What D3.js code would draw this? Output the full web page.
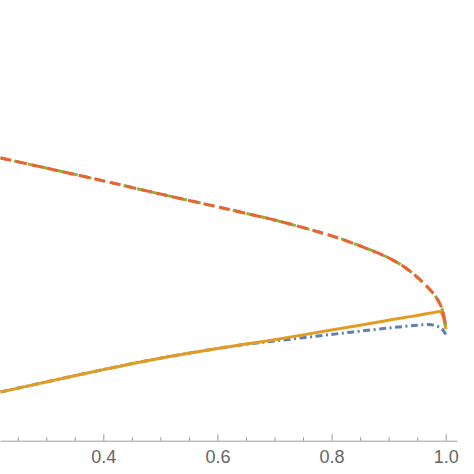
<!DOCTYPE html>
<html>
<head>
<meta charset="utf-8">
<script src="https://cdn.jsdelivr.net/npm/d3@7"></script>
<style>
  html, body { margin: 0; padding: 0; background: #fff; }
  svg { display: block; }
</style>
</head>
<body>
<div id="view"></div>
<script>
(function () {
  /* ============ DATA ============ */
  const xs       = [0.22, 0.30, 0.40, 0.50, 0.60, 0.65, 0.70, 0.80, 0.85, 0.90, 0.93, 0.95, 0.97, 0.98, 0.99, 0.995, 1.0];
  const blueY    = [0.109, 0.132, 0.160, 0.186, 0.208, 0.2175, 0.225, 0.240, 0.2475, 0.2545, 0.2585, 0.261, 0.2625, 0.2605, 0.2555, 0.250, 0.240];
  const orangeY  = [0.109, 0.132, 0.160, 0.186, 0.208, 0.218, 0.228, 0.250, 0.261, 0.272, 0.279, 0.283, 0.288, 0.290, 0.2916, 0.282, 0.252];
  const greenY   = [0.641, 0.618, 0.589, 0.559, 0.530, 0.515, 0.500, 0.464, 0.441, 0.414, 0.391, 0.370, 0.345, 0.330, 0.309, 0.291, 0.259];
  const redY     = [0.641, 0.618, 0.589, 0.559, 0.530, 0.515, 0.500, 0.464, 0.441, 0.414, 0.391, 0.370, 0.345, 0.330, 0.309, 0.291, 0.259];
  const majorTicks = [0.4, 0.6, 0.8, 1.0];
  const minorTicks = [0.25, 0.3, 0.35, 0.45, 0.5, 0.55, 0.65, 0.7, 0.75, 0.85, 0.9, 0.95];

  /* ============ Series styles ============ */
  const series = [
    { name: "blue",   ys: blueY,   color: "#5E81B5", dash: "7,3.5,2,3.5" },
    { name: "orange", ys: orangeY, color: "#E19C24", dash: null },
    { name: "green",  ys: greenY,  color: "#8FB032", dash: "9,5" },
    { name: "red",    ys: redY,    color: "#EB6235", dash: "11,5" }
  ];

  /* ============ Draw ============ */
  const W = 474, H = 474;
  const axisY = 440.7;

  const svg = d3.select("#view").append("svg")
    .attr("width", W).attr("height", H);

  const x = d3.scaleLinear().domain([0.219, 1.0192]).range([0, 456.7]);
  const y = d3.scaleLinear().domain([0, 1]).range([440, 0]);

  // x axis: minor ticks
  svg.append("g")
    .attr("transform", `translate(0,${axisY})`)
    .call(d3.axisBottom(x).tickValues(minorTicks).tickSize(-3.5).tickFormat(""))
    .call(g => g.select(".domain").remove())
    .call(g => g.selectAll(".tick line").attr("stroke", "#9a9a9a"));

  // x axis: major ticks + labels
  svg.append("g")
    .attr("transform", `translate(0,${axisY})`)
    .call(d3.axisBottom(x).tickValues(majorTicks).tickSize(-6.5).tickSizeOuter(0)
      .tickFormat(d3.format(".1f")))
    .attr("font-family", "'Liberation Sans', Arial, sans-serif")
    .attr("font-size", 18)
    .call(g => g.select(".domain").attr("stroke", "#9a9a9a"))
    .call(g => g.selectAll(".tick line").attr("stroke", "#9a9a9a"))
    .call(g => g.selectAll(".tick text")
      .attr("y", 10)
      .attr("dy", "0.71em")
      .attr("fill", "#666"));

  const line = d3.line()
    .x(d => x(d[0]))
    .y(d => y(d[1]))
    .curve(d3.curveCatmullRom.alpha(0.5));

  svg.selectAll("path.curve")
    .data(series)
    .join("path")
    .attr("class", "curve")
    .attr("d", s => line(xs.map((v, i) => [v, s.ys[i]])))
    .attr("fill", "none")
    .attr("stroke", s => s.color)
    .attr("stroke-width", 3)
    .attr("stroke-dasharray", s => s.dash)
    .attr("stroke-linecap", "butt")
    .attr("stroke-linejoin", "round");
})();
</script>
</body>
</html>
